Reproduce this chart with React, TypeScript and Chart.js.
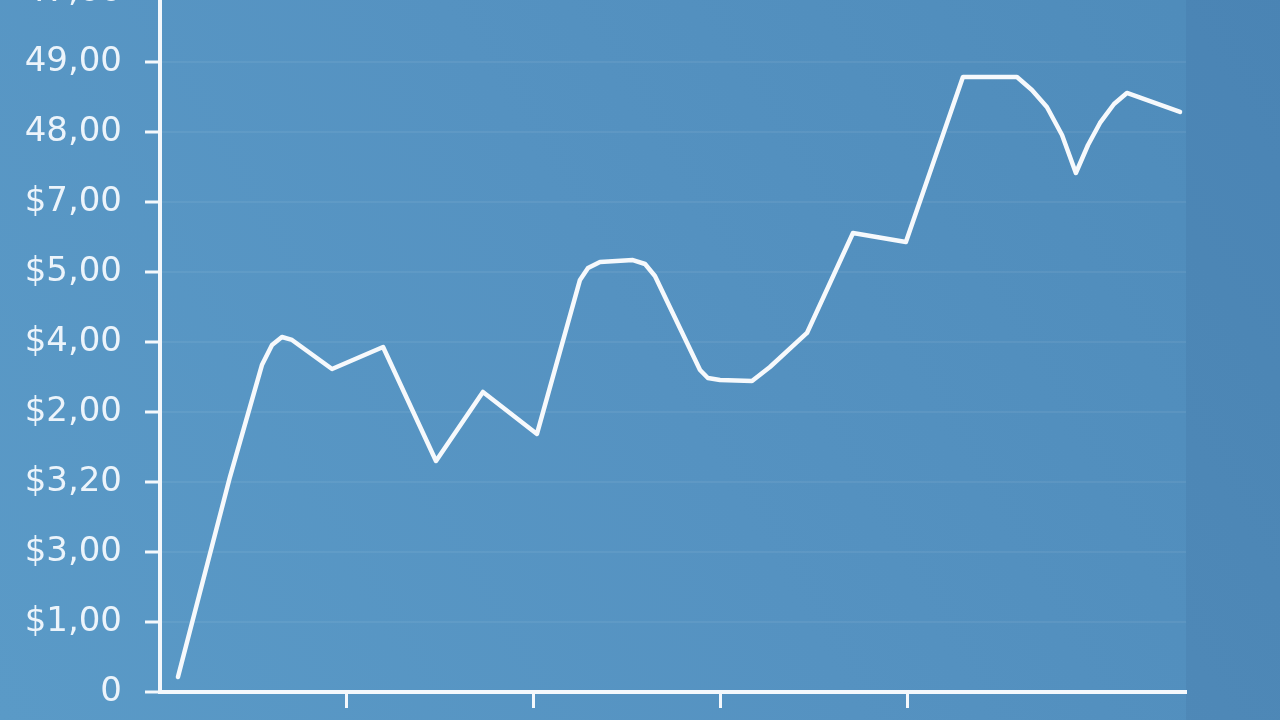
import React, { useEffect, useRef } from "react";
import { Chart, registerables } from "chart.js";

Chart.register(...registerables);

// Y-axis tick values and their (as printed) labels, bottom to top
const yTickValues = [0, 1, 2, 3, 4, 5, 6, 7, 8, 9, 10];
const yTickLabels = ["0", "$1,00", "$3,00", "$3,20", "$2,00", "$4,00", "$5,00", "$7,00", "48,00", "49,00", "47,00"];

// X-axis tick marks (unlabelled)
const xTickValues = [1, 2, 3, 4];

// Series (x position along the axis, value)
const seriesX = [
  0.096, 0.374, 0.545, 0.599, 0.652, 0.706, 0.92, 1.193, 1.476, 1.727, 2.016, 2.246,
  2.289, 2.353, 2.529, 2.594, 2.647, 2.888, 2.93, 2.995, 3.166, 3.262, 3.46, 3.706,
  3.989, 4.294, 4.583, 4.663, 4.743, 4.824, 4.898, 4.963, 5.027, 5.102, 5.171, 5.455,
];
const seriesY = [
  0.214, 3.071, 4.671, 4.957, 5.071, 5.029, 4.614, 4.929, 3.3, 4.286, 3.686, 5.886,
  6.057, 6.143, 6.171, 6.114, 5.943, 4.6, 4.486, 4.457, 4.443, 4.643, 5.129, 6.557,
  6.429, 8.786, 8.786, 8.6, 8.357, 7.957, 7.414, 7.814, 8.129, 8.4, 8.557, 8.286,
];

const X_MAX = 5.487;
const Y_MAX = 10.314;

const bgPlugin = {
  id: "bgPlugin",
  beforeDraw(chart: any) {
    const { ctx, width, height, chartArea } = chart;
    ctx.save();
    const g = ctx.createLinearGradient(0, height, width, 0);
    g.addColorStop(0, "#5a9ac7");
    g.addColorStop(0.5, "#5592c1");
    g.addColorStop(1, "#4e8bba");
    ctx.fillStyle = g;
    ctx.fillRect(0, 0, width, height);
    ctx.fillStyle = "rgba(10,40,80,0.06)";
    ctx.fillRect(chartArea.right, 0, width - chartArea.right, height);
    ctx.restore();
  },
};

export default function App() {
  const ref = useRef<HTMLCanvasElement | null>(null);
  useEffect(() => {
    if (!ref.current) return;
    const chart = new Chart(ref.current, {
      type: "line",
      data: {
        datasets: [
          {
            data: seriesX.map((x, i) => ({ x, y: seriesY[i] })),
            borderColor: "#f6f9fc",
            borderWidth: 4.5,
            pointRadius: 0,
            tension: 0,
            borderJoinStyle: "round",
            borderCapStyle: "round",
            fill: false,
          },
        ],
      },
      options: {
        animation: false,
        responsive: false,
        layout: { autoPadding: false, padding: { left: 0, top: 0, right: 94, bottom: 0 } },
        plugins: { legend: { display: false }, tooltip: { enabled: false } },
        scales: {
          x: {
            type: "linear",
            min: 0,
            max: X_MAX,
            afterBuildTicks: (s: any) => {
              s.ticks = xTickValues.map((v) => ({ value: v }));
            },
            afterFit: (s: any) => {
              s.height = 28;
              s.paddingLeft = 0;
              s.paddingRight = 0;
              s.paddingTop = 0;
              s.paddingBottom = 0;
            },
            ticks: { display: false },
            grid: {
              drawOnChartArea: false,
              drawTicks: true,
              tickLength: 16,
              tickWidth: 3,
              tickColor: "#f4f8fc",
            },
            border: { display: true, color: "#f4f8fc", width: 4 },
          },
          y: {
            type: "linear",
            min: 0,
            max: Y_MAX,
            afterBuildTicks: (s: any) => {
              s.ticks = yTickValues.map((v) => ({ value: v }));
            },
            afterFit: (s: any) => {
              s.width = 160;
              s.paddingLeft = 0;
              s.paddingRight = 0;
              s.paddingTop = 0;
              s.paddingBottom = 0;
            },
            ticks: {
              padding: 23,
              color: "rgba(242,248,253,0.96)",
              font: { family: "'DejaVu Sans', sans-serif", size: 34 },
              callback: (v: any) => yTickLabels[yTickValues.indexOf(Number(v))] ?? "",
            },
            grid: {
              color: "rgba(255,255,255,0.06)",
              lineWidth: 2,
              drawTicks: true,
              tickLength: 15,
              tickWidth: 3,
              tickColor: "#f4f8fc",
            },
            border: { display: true, color: "#f4f8fc", width: 4 },
          },
        },
      },
      plugins: [bgPlugin],
    } as any);
    return () => chart.destroy();
  }, []);
  return (
    <div style={{ position: "fixed", left: 0, top: -30, width: 1280, height: 750 }}>
      <canvas ref={ref} width={1280} height={750} style={{ display: "block" }} />
    </div>
  );
}
